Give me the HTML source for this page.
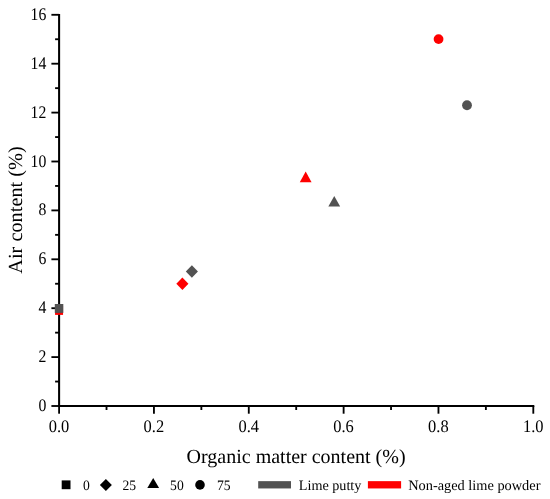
<!DOCTYPE html>
<html><head><meta charset="utf-8"><title>Chart</title>
<style>html,body{margin:0;padding:0;background:#fff}text{text-rendering:geometricPrecision}</style></head>
<body>
<svg width="550" height="499" viewBox="0 0 550 499" style="display:block">
<rect width="550" height="499" fill="#ffffff"/>
<g stroke="#000" fill="none" stroke-linecap="butt">
<path d="M59.1 13.9 V406.9" stroke-width="2.05"/>
<path d="M58.1 406.0 H534.3" stroke-width="1.8"/>
</g>
<g stroke="#000" stroke-width="1.85" fill="none">
<path d="M51.4 406.00 H59.1"/>
<path d="M55.1 381.55 H59.1"/>
<path d="M51.4 357.10 H59.1"/>
<path d="M55.1 332.65 H59.1"/>
<path d="M51.4 308.20 H59.1"/>
<path d="M55.1 283.75 H59.1"/>
<path d="M51.4 259.30 H59.1"/>
<path d="M55.1 234.85 H59.1"/>
<path d="M51.4 210.40 H59.1"/>
<path d="M55.1 185.95 H59.1"/>
<path d="M51.4 161.50 H59.1"/>
<path d="M55.1 137.05 H59.1"/>
<path d="M51.4 112.60 H59.1"/>
<path d="M55.1 88.15 H59.1"/>
<path d="M51.4 63.70 H59.1"/>
<path d="M55.1 39.25 H59.1"/>
<path d="M51.4 14.80 H59.1"/>
<path d="M59.10 406.0 V413.7"/>
<path d="M106.52 406.0 V410.0"/>
<path d="M153.94 406.0 V413.7"/>
<path d="M201.36 406.0 V410.0"/>
<path d="M248.78 406.0 V413.7"/>
<path d="M296.20 406.0 V410.0"/>
<path d="M343.62 406.0 V413.7"/>
<path d="M391.04 406.0 V410.0"/>
<path d="M438.46 406.0 V413.7"/>
<path d="M485.88 406.0 V410.0"/>
<path d="M533.30 406.0 V413.7"/>
</g>
<g font-family="'Liberation Serif', 'Times New Roman', serif" font-size="17.7" fill="#000">
<text transform="translate(46.3 411.00) scale(0.89 1)" text-anchor="end">0</text>
<text transform="translate(46.3 362.10) scale(0.89 1)" text-anchor="end">2</text>
<text transform="translate(46.3 313.20) scale(0.89 1)" text-anchor="end">4</text>
<text transform="translate(46.3 264.30) scale(0.89 1)" text-anchor="end">6</text>
<text transform="translate(46.3 215.40) scale(0.89 1)" text-anchor="end">8</text>
<text transform="translate(46.3 166.50) scale(0.89 1)" text-anchor="end">10</text>
<text transform="translate(46.3 117.60) scale(0.89 1)" text-anchor="end">12</text>
<text transform="translate(46.3 68.70) scale(0.89 1)" text-anchor="end">14</text>
<text transform="translate(46.3 19.80) scale(0.89 1)" text-anchor="end">16</text>
<text transform="translate(59.00 432) scale(0.93 1)" text-anchor="middle">0.0</text>
<text transform="translate(153.84 432) scale(0.93 1)" text-anchor="middle">0.2</text>
<text transform="translate(248.68 432) scale(0.93 1)" text-anchor="middle">0.4</text>
<text transform="translate(343.52 432) scale(0.93 1)" text-anchor="middle">0.6</text>
<text transform="translate(438.36 432) scale(0.93 1)" text-anchor="middle">0.8</text>
<text transform="translate(533.20 432) scale(0.93 1)" text-anchor="middle">1.0</text>
</g>
<g font-family="'Liberation Serif', 'Times New Roman', serif" font-size="20" fill="#000">
<text x="296.1" y="463" text-anchor="middle">Organic matter content (%)</text>
<text transform="translate(21.7 210.0) rotate(-90) scale(1.015 1)" text-anchor="middle">Air content (%)</text>
</g>
<rect x="55.05" y="306.00" width="8.0" height="8.9" fill="#fe0000"/>
<rect x="54.80" y="304.00" width="8.5" height="8.9" fill="#525252"/>
<path d="M182.39 277.50 L188.44 283.75 L182.39 290.00 L176.34 283.75Z" fill="#fe0000"/>
<path d="M191.88 265.27 L197.93 271.52 L191.88 277.77 L185.83 271.52Z" fill="#525252"/>
<path d="M305.68 171.55 L311.58 182.15 L299.78 182.15Z" fill="#fe0000"/>
<path d="M334.24 196.00 L340.14 206.60 L328.34 206.60Z" fill="#525252"/>
<circle cx="438.56" cy="39.10" r="4.9" fill="#fe0000"/>
<circle cx="467.01" cy="105.26" r="4.9" fill="#525252"/>
<rect x="61.70" y="480.40" width="8.8" height="8.8" fill="#000"/>
<path d="M105.90 478.90 L111.90 485.00 L105.90 491.10 L99.90 485.00Z" fill="#000"/>
<path d="M153.20 477.93 L159.10 487.93 L147.30 487.93Z" fill="#000"/>
<circle cx="200.00" cy="484.90" r="4.8" fill="#000"/>
<rect x="258.2" y="481.15" width="32.8" height="7.3" fill="#525252"/>
<rect x="367.9" y="481.15" width="33.2" height="7.3" fill="#fe0000"/>
<g font-family="'Liberation Serif', 'Times New Roman', serif" font-size="14.35" fill="#000">
<text transform="translate(83.1 489.6) scale(0.95 1)">0</text>
<text transform="translate(122.5 489.6) scale(0.95 1)">25</text>
<text transform="translate(170.1 489.6) scale(0.95 1)">50</text>
<text transform="translate(217.0 489.6) scale(0.95 1)">75</text>
<text transform="translate(298.8 489.6) scale(0.988 1)">Lime putty</text>
<text x="408.2" y="489.6">Non-aged lime powder</text>
</g>
</svg>
</body></html>
